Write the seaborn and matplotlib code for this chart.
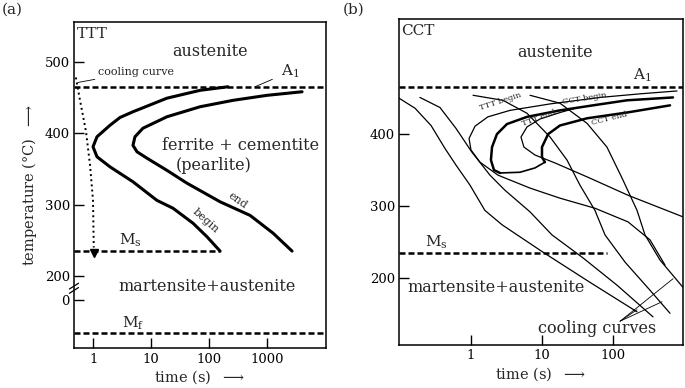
import matplotlib
matplotlib.use('Agg')
import matplotlib.pyplot as plt
import matplotlib.transforms as mtransforms
from matplotlib.ticker import NullLocator
import seaborn as sns

# temperatures shared by both panels (degC)
A1 = 465
MS = 235
MF = -46
BREAK_SHIFT = 167  # panel (a) y axis is broken between 0 and 200

# ---------------- panel (a): TTT ----------------
a_begin_t = [214, 70.2, 18.8, 4.86, 2.9, 1.94, 1.16, 0.99, 1.16, 1.94, 4.86, 12.6, 23.9, 53.1, 92.7, 156]
a_begin_T = [465, 460, 449, 430, 422, 411, 395, 381, 367, 353, 332, 306, 295, 274, 255, 235]
a_end_t = [4080, 1010, 261, 70.2, 18.8, 7.24, 5.26, 4.86, 5.70, 8.49, 18.8, 41.8, 156, 514, 1290, 2740]
a_end_T = [458, 453, 446, 437, 423, 407, 395, 383, 374, 365, 348, 330, 304, 285, 260, 235]
a_quench_t = [0.50, 0.59, 0.75, 0.88, 0.99, 1.02]
a_quench_T = [478, 446, 402, 355, 306, 240]
a_ms_end = 156
a_xticks = [1, 10, 100, 1000]
a_yticks = [0, 200, 300, 400, 500]

# ---------------- panel (b): CCT ----------------
cool1_t = [0.097, 0.163, 0.274, 0.431, 0.615, 0.97, 1.57, 2.74, 10.3, 47.4, 218]
cool1_T = [450, 436, 412, 380, 357, 329, 294, 274, 236, 194, 153]
cool2_t = [0.191, 0.366, 0.615, 1.03, 1.85, 3.01, 6.78, 13.8, 37.8, 114, 366]
cool2_T = [451, 437, 408, 375, 343, 322, 292, 260, 228, 190, 146]
cool3_t = [1.07, 2.82, 6.15, 13.0, 22.5, 34.3, 55.7, 77.1, 148, 332, 635]
cool3_T = [454, 447, 429, 396, 364, 329, 294, 260, 222, 183, 151]
cool4_t = [6.78, 17.9, 43.1, 82.2, 134, 218, 282, 459, 968]
cool4_T = [454, 443, 415, 382, 339, 294, 260, 225, 187]

b_tttb_t = [796, 240, 65.6, 13.0, 3.54, 1.73, 1.14, 0.94, 1.0, 1.34, 2.40, 6.78, 17.9, 55.7, 163, 332, 540]
b_tttb_T = [460, 456, 451, 442, 433, 424, 411, 394, 378, 361, 343, 325, 311, 297, 278, 253, 218]
b_ttte_t = [32.1, 17.9, 9.37, 6.15, 5.06, 5.57, 7.96, 15.2, 44.5, 163, 968]
b_ttte_T = [437, 430, 421, 410, 396, 382, 371, 360, 340, 315, 285]
b_cctb_t = [700, 157, 52.2, 17.9, 6.15, 3.21, 2.32, 1.98, 1.91, 2.11, 2.56]
b_cctb_T = [451, 447, 440, 433, 424, 414, 400, 382, 364, 350, 346]
b_link_t = [2.56, 4.90, 7.96, 11.0]
b_link_T = [346, 347, 353, 361]
b_ccte_t = [635, 157, 43.1, 17.9, 12.2, 10.0, 10.0, 11.0]
b_ccte_T = [440, 430, 422, 412, 400, 382, 368, 361]
b_ms_end = 82
b_xticks = [1, 10, 100]
b_yticks = [200, 300, 400]

sns.set_theme(style='ticks')
plt.rcParams['font.family'] = ['DejaVu Serif']
plt.rcParams['mathtext.fontset'] = 'dejavuserif'

fig = plt.figure(figsize=(6.85, 3.88), dpi=100)
ax_a = fig.add_axes([0.108, 0.102, 0.368, 0.842])
ax_b = fig.add_axes([0.5825, 0.111, 0.4146, 0.840])

dash = (2.4, 1.2)


def ydisp(T):
    # temperatures below the break are shifted up
    return [v if v >= 190 else v + BREAK_SHIFT for v in T]


def curve(ax, t, T, lw, **kw):
    sns.lineplot(x=t, y=T, ax=ax, sort=False, estimator=None,
                 color='black', lw=lw, **kw)


for ax in (ax_a, ax_b):
    ax.set_xscale('log')
    ax.tick_params(direction='in', length=7, width=1.0, labelsize=9.5,
                   pad=3, color='black', labelcolor='black')
    ax.xaxis.set_minor_locator(NullLocator())
    for s in ax.spines.values():
        s.set_linewidth(1.1)
        s.set_color('black')

# ---- panel (a)
ax_a.set_xlim(0.464, 10600)
ax_a.set_ylim(98.8, 556)
curve(ax_a, a_begin_t, a_begin_T, 2.2)
curve(ax_a, a_end_t, a_end_T, 2.2)
curve(ax_a, a_quench_t, a_quench_T, 1.4, linestyle=':')
ax_a.plot(a_quench_t[-1], MS - 3, marker='v', color='black', ms=6)
ax_a.axhline(A1, color='black', lw=1.8, dashes=dash)
ax_a.hlines(MS, 0.464, a_ms_end, color='black', lw=1.8, linestyles=(0, dash))
ax_a.axhline(ydisp([MF])[0], color='black', lw=1.8, dashes=dash)

ax_a.set_xticks(a_xticks)
ax_a.set_xticklabels([str(v) for v in a_xticks])
ax_a.set_yticks(ydisp(a_yticks))
ax_a.set_yticklabels([str(v) for v in a_yticks])

# axis break marks
tr = mtransforms.blended_transform_factory(ax_a.transAxes, ax_a.transData)
for dy in (-3, 3):
    ax_a.plot([-0.018, 0.018], [183 + dy - 4, 183 + dy + 4], color='black',
              lw=0.9, transform=tr, clip_on=False)

ax_a.text(0.012, 0.985, 'TTT', transform=ax_a.transAxes, va='top', ha='left', fontsize=11)
ax_a.text(105, 514, 'austenite', ha='center', va='center', fontsize=11.5)
ax_a.text(350, 383, 'ferrite + cementite', ha='center', va='center', fontsize=11.5)
ax_a.text(119, 355, '(pearlite)', ha='center', va='center', fontsize=11.5)
ax_a.text(92.7, 185, 'martensite+austenite', ha='center', va='center', fontsize=11.5)
ax_a.text(4.3, 250, r'M$_\mathrm{s}$', ha='center', va='center', fontsize=11)
ax_a.text(4.9, 134, r'M$_\mathrm{f}$', ha='center', va='center', fontsize=11)
ax_a.text(88, 278, 'begin', ha='center', va='center', fontsize=8, rotation=-42)
ax_a.text(320, 306, 'end', ha='center', va='center', fontsize=8, rotation=-35)
ax_a.annotate('cooling curve', xy=(0.543, 471), xytext=(1.21, 486),
              fontsize=8, va='center', ha='left',
              arrowprops=dict(arrowstyle='-', lw=0.6, color='black', shrinkA=0, shrinkB=0))
ax_a.annotate(r'A$_1$', xy=(627, A1), xytext=(2530, 486), fontsize=11,
              va='center', ha='center',
              arrowprops=dict(arrowstyle='-', lw=0.6, color='black', shrinkA=4, shrinkB=0))

ax_a.set_xlabel(r'time (s)  $\longrightarrow$', fontsize=10.5, labelpad=2)
ax_a.set_ylabel(r'temperature (°C)  $\longrightarrow$', fontsize=10.5, labelpad=4)

# ---- panel (b)
ax_b.set_xlim(0.097, 968)
ax_b.set_ylim(107, 560)
for t, T in [(cool1_t, cool1_T), (cool2_t, cool2_T), (cool3_t, cool3_T), (cool4_t, cool4_T)]:
    curve(ax_b, t, T, 0.9)
curve(ax_b, b_tttb_t, b_tttb_T, 0.9)
curve(ax_b, b_ttte_t, b_ttte_T, 0.9)
curve(ax_b, b_cctb_t, b_cctb_T, 1.8)
curve(ax_b, b_ccte_t, b_ccte_T, 1.8)
curve(ax_b, b_link_t, b_link_T, 1.2)
ax_b.axhline(A1, color='black', lw=1.8, dashes=dash)
ax_b.hlines(MS, 0.097, b_ms_end, color='black', lw=1.8, linestyles=(0, dash))

ax_b.set_xticks(b_xticks)
ax_b.set_xticklabels([str(v) for v in b_xticks])
ax_b.set_yticks(b_yticks)
ax_b.set_yticklabels([str(v) for v in b_yticks])

ax_b.text(0.008, 0.985, 'CCT', transform=ax_b.transAxes, va='top', ha='left', fontsize=11)
ax_b.text(15.2, 514, 'austenite', ha='center', va='center', fontsize=11.5)
ax_b.text(256, 482, r'A$_1$', ha='center', va='center', fontsize=11)
ax_b.text(0.33, 250, r'M$_\mathrm{s}$', ha='center', va='center', fontsize=11)
ax_b.text(0.126, 187, 'martensite+austenite', ha='left', va='center', fontsize=11.5)
ax_b.text(2.6, 445, 'TTT begin', ha='center', va='center', fontsize=6, rotation=18)
ax_b.text(40, 449, 'CCT begin', ha='center', va='center', fontsize=6, rotation=9)
ax_b.text(9.0, 422, 'TTT end', ha='center', va='center', fontsize=6, rotation=20)
ax_b.text(90, 422, 'CCT end', ha='center', va='center', fontsize=6, rotation=14)
ax_b.text(59.6, 130, 'cooling curves', ha='center', va='center', fontsize=11.5)
for xy in [(700, 199), (490, 167), (218, 156)]:
    ax_b.annotate('', xy=xy, xytext=(126, 140),
                  arrowprops=dict(arrowstyle='-', lw=0.6, color='black', shrinkA=0, shrinkB=0))
ax_b.set_xlabel(r'time (s)  $\longrightarrow$', fontsize=10.5, labelpad=2)

fig.text(0.003, 0.965, '(a)', fontsize=11)
fig.text(0.500, 0.965, '(b)', fontsize=11)

fig.savefig('out.png', dpi=100)
